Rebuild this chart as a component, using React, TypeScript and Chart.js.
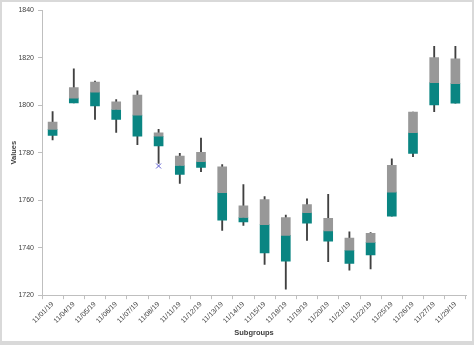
import React, { useEffect, useRef } from "react";
import { Chart, registerables } from "chart.js";

Chart.register(...registerables);

const categories = [
  "11/01/19", "11/04/19", "11/05/19", "11/06/19", "11/07/19", "11/08/19", "11/11/19",
  "11/12/19", "11/13/19", "11/14/19", "11/15/19", "11/18/19", "11/19/19", "11/20/19",
  "11/21/19", "11/22/19", "11/25/19", "11/26/19", "11/27/19", "11/29/19",
];
const minVals = [1785.4, 1801.0, 1794.0, 1788.5, 1783.4, 1775.5, 1767.1, 1772.0, 1747.3, 1749.4, 1732.9, 1722.5, 1743.1, 1734.1, 1730.5, 1731.0, 1753.3, 1778.3, 1797.3, 1800.9];
const q1Vals = [1787.3, 1801.0, 1799.7, 1794.0, 1786.9, 1782.8, 1770.8, 1773.8, 1751.6, 1750.8, 1737.8, 1734.3, 1750.3, 1742.7, 1733.4, 1736.9, 1753.3, 1779.7, 1800.1, 1800.9];
const medianVals = [1789.8, 1803.0, 1805.5, 1798.2, 1795.8, 1786.9, 1774.6, 1776.2, 1763.2, 1752.7, 1749.7, 1745.2, 1754.7, 1747.1, 1738.9, 1742.2, 1763.4, 1788.4, 1809.5, 1809.1];
const q3Vals = [1792.9, 1807.4, 1809.7, 1801.4, 1804.3, 1788.4, 1778.6, 1780.1, 1774.0, 1757.6, 1760.3, 1752.7, 1758.1, 1752.4, 1744.0, 1746.0, 1774.7, 1797.1, 1820.0, 1819.5];
const maxVals = [1797.3, 1815.3, 1810.2, 1802.4, 1806.0, 1789.8, 1779.7, 1786.2, 1775.0, 1766.6, 1761.5, 1753.7, 1760.6, 1762.5, 1746.7, 1746.4, 1777.4, 1797.1, 1824.8, 1824.8];
const outlierVals = [null, null, null, null, null, 1774.4, null, null, null, null, null, null, null, null, null, null, null, null, null, null];
const yTicks = [1720, 1740, 1760, 1780, 1800, 1820, 1840];

const FONT = "'Liberation Sans', Arial, sans-serif";

export default function App() {
  const ref = useRef<HTMLCanvasElement>(null);
  useEffect(() => {
    document.body.style.margin = "0";
    const ctx = ref.current!;
    const chart = new Chart(ctx, {
      type: "bar",
      data: {
        labels: categories,
        datasets: [
          {
            type: "line",
            label: "Outliers",
            data: outlierVals as any,
            showLine: false,
            pointStyle: "crossRot",
            pointRadius: 3.5,
            borderColor: "#5a5ad0",
            borderWidth: 1,
            backgroundColor: "#5a5ad0",
          } as any,
          {
            label: "Upper",
            data: categories.map((_, i) => [medianVals[i], q3Vals[i]]),
            backgroundColor: "#989898",
            barThickness: 9,
            grouped: false,
          } as any,
          {
            label: "Lower",
            data: categories.map((_, i) => [q1Vals[i], medianVals[i]]),
            backgroundColor: "#0a8582",
            barThickness: 9,
            grouped: false,
          } as any,
          {
            label: "Whisker",
            data: categories.map((_, i) => [minVals[i], maxVals[i]]),
            backgroundColor: "#404040",
            barThickness: 1.2,
            grouped: false,
          } as any,
        ],
      },
      options: {
        animation: false,
        responsive: false,
        maintainAspectRatio: false,
        layout: { padding: { top: 5, right: 6, left: 0, bottom: 0 } },
        plugins: { legend: { display: false }, tooltip: { enabled: false } },
        scales: {
          x: {
            type: "category",
            offset: true,
            grid: { drawOnChartArea: false, drawTicks: true, tickLength: 4, color: "#bfbfbf", offset: true },
            border: { color: "#bfbfbf" },
            ticks: {
              color: "#404040",
              font: { family: FONT, size: 7 },
              maxRotation: 45,
              minRotation: 45,
              autoSkip: false,
              padding: 1,
            },
            title: {
              display: true,
              text: "Subgroups",
              color: "#404040",
              font: { family: FONT, size: 7.5, weight: "bold" },
              padding: { top: 2, bottom: 4 },
            },
          },
          y: {
            min: 1720,
            max: 1840,
            afterBuildTicks: (scale: any) => {
              scale.ticks = yTicks.map((v) => ({ value: v }));
            },
            afterFit: (scale: any) => {
              scale.width = 40;
            },
            grid: { drawOnChartArea: false, drawTicks: true, tickLength: 4, color: "#bfbfbf" },
            border: { color: "#bfbfbf" },
            ticks: {
              color: "#404040",
              font: { family: FONT, size: 7 },
              padding: 4,
              callback: (v: any) => String(v),
            },
            title: {
              display: true,
              text: "Values",
              color: "#404040",
              font: { family: FONT, size: 7.5, weight: "bold" },
              padding: { top: 7, bottom: 2 },
            },
          },
        },
      },
    });
    return () => chart.destroy();
  }, []);
  return (
    <div
      style={{
        width: 474,
        height: 345,
        boxSizing: "border-box",
        borderLeft: "2px solid #d9d9d9",
        borderRight: "2px solid #d9d9d9",
        borderTop: "2px solid #d9d9d9",
        borderBottom: "4px solid #d9d9d9",
        background: "#fff",
      }}
    >
      <canvas ref={ref} width={470} height={339} style={{ display: "block" }} />
    </div>
  );
}
